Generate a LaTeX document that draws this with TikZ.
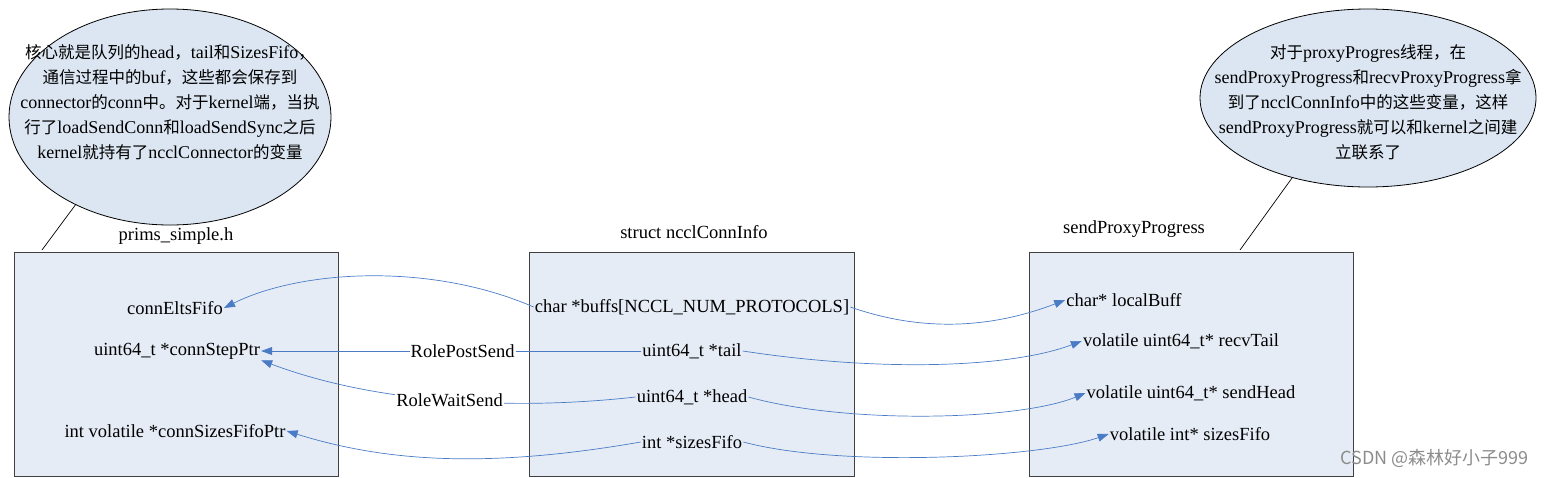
\documentclass[tikz,border=0pt]{standalone}
\usepackage{fontspec}
\setmainfont{Liberation Serif}
\newfontfamily\cjk{Noto Sans CJK SC}
\usetikzlibrary{arrows.meta}
\newcommand{\zh}[1]{{\cjk\fontsize{16.5}{25}\selectfont #1}}
\begin{document}
\begin{tikzpicture}[x=1pt,y=-1pt,
  box/.style={draw=black!75,fill=boxblue,line width=0.8pt},
  bub/.style={draw=black,fill=bubblue,line width=0.8pt},
  t/.style={font=\fontsize{18.5}{20}\selectfont,inner sep=1pt},
  arr/.style={draw=arrblue,line width=0.7pt,-{Triangle[length=11pt,width=8pt]}},
  lab/.style={font=\fontsize{18.5}{20}\selectfont,fill=white,inner sep=1pt}]
\definecolor{boxblue}{HTML}{E6ECF6}
\definecolor{bubblue}{HTML}{DCE6F2}
\definecolor{arrblue}{HTML}{4A7CC6}
\useasboundingbox (0,0) rectangle (1546,477);
% bubbles
\draw[black,line width=0.7pt] (42,250) -- (82,196);
\draw[black,line width=0.7pt] (1240,250) -- (1292,178);
\draw[bub] (170,117) ellipse [x radius=161, y radius=108];
\draw[bub] (1368,98) ellipse [x radius=168, y radius=89];
\node[t,align=center,font=\fontsize{18}{25}\selectfont] (nl) at (170,102) {%
\zh{核心就是队列的}head\zh{，}tail\zh{和}SizesFifo\zh{，}\\
\zh{通信过程中的}buf\zh{，这些都会保存到}\\
connector\zh{的}conn\zh{中。对于}kernel\zh{端，当执}\\
\zh{行了}loadSendConn\zh{和}loadSendSync\zh{之后}\\
kernel\zh{就持有了}ncclConnector\zh{的变量}};
\node[t,align=center,font=\fontsize{18}{25}\selectfont] (nr) at (1368,102) {%
\zh{对于}proxyProgres\zh{线程，在}\\
sendProxyProgress\zh{和}recvProxyProgress\zh{拿}\\
\zh{到了}ncclConnInfo\zh{中的这些变量，这样}\\
sendProxyProgress\zh{就可以和}kernel\zh{之间建}\\
\zh{立联系了}};
% boxes
\draw[box] (14,252) rectangle (338,476);
\draw[box] (529,252) rectangle (854,476);
\draw[box] (1029,252) rectangle (1353,476);
\node[t] (tl) at (176,236) {prims\_simple.h};
\node[t] (tm) at (694,232) {struct ncclConnInfo};
\node[t] (tr) at (1134,229) {sendProxyProgress};
% left texts
\node[t] (l1) at (175,308) {connEltsFifo};
\node[t] (l2) at (177,351) {uint64\_t *connStepPtr};
\node[t] (l3) at (175,431) {int volatile *connSizesFifoPtr};
% middle
\node[t] (m1) at (692,307) {char *buffs[NCCL\_NUM\_PROTOCOLS]};
\node[t] (m2) at (692,351) {uint64\_t *tail};
\node[t] (m3) at (692,397) {uint64\_t *head};
\node[t] (m4) at (692,442) {int *sizesFifo};
% right
\node[t] (r1) at (1124,300) {char* localBuff};
\node[t] (r2) at (1181,341) {volatile uint64\_t* recvTail};
\node[t] (r3) at (1191,393) {volatile uint64\_t* sendHead};
\node[t] (r4) at (1190,434) {volatile int* sizesFifo};
% arrows left
\draw[arr] (m1.west) .. controls (430,262) and (300,270) .. (l1.east);
\draw[arr] (m2.west) -- node[lab,pos=0.47] (p1) {RolePostSend} (l2.east);
\draw[arr] (m3.west) .. controls (520,410) and (380,405) .. node[lab,pos=0.5] (p2) {RoleWaitSend} (l2.south east);
\draw[arr] (m4.west) .. controls (480,470) and (380,460) .. (l3.east);
% arrows right
\draw[arr] (m1.east) .. controls (930,335) and (1000,325) .. (r1.west);
\draw[arr] (m2.east) .. controls (880,372) and (1010,368) .. (r2.west);
\draw[arr] (m3.east) .. controls (850,425) and (1020,420) .. (r3.west);
\draw[arr] (m4.east) .. controls (840,468) and (1040,458) .. (r4.west);
\node[font=\cjk\fontsize{18}{20}\selectfont,text=black!45,anchor=east] (wm) at (1532,458) {CSDN @森林好小子999};
\end{tikzpicture}
\end{document}
